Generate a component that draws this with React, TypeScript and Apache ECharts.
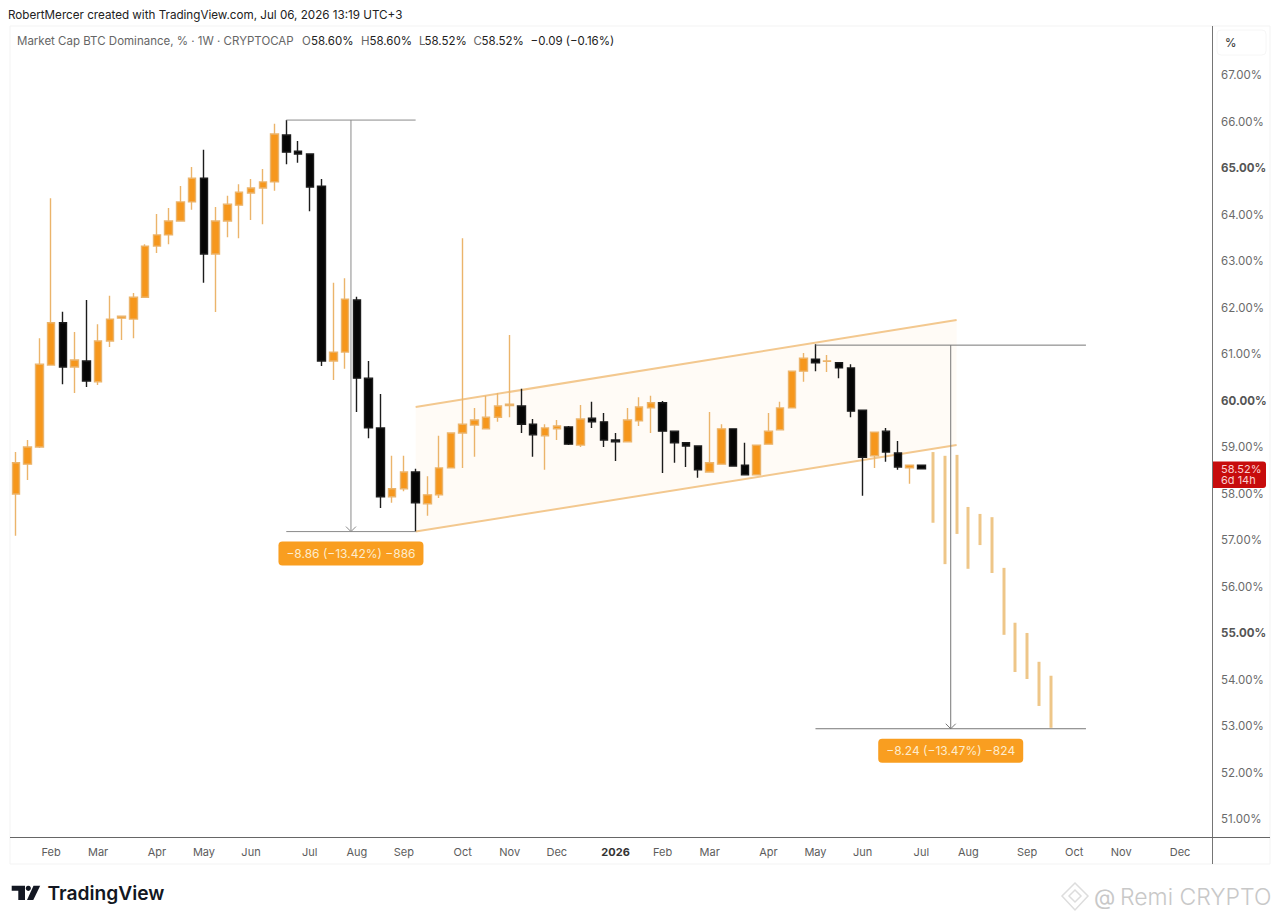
import React, { useEffect, useRef } from "react";
import * as echarts from "echarts";

// Weekly bars, 13 Jan 2025 onward
const weeks: string[] = [
  "2025-01-13","2025-01-20","2025-01-27","2025-02-03","2025-02-10","2025-02-17","2025-02-24","2025-03-03","2025-03-10","2025-03-17",
  "2025-03-24","2025-03-31","2025-04-07","2025-04-14","2025-04-21","2025-04-28","2025-05-05","2025-05-12","2025-05-19","2025-05-26",
  "2025-06-02","2025-06-09","2025-06-16","2025-06-23","2025-06-30","2025-07-07","2025-07-14","2025-07-21","2025-07-28","2025-08-04",
  "2025-08-11","2025-08-18","2025-08-25","2025-09-01","2025-09-08","2025-09-15","2025-09-22","2025-09-29","2025-10-06","2025-10-13",
  "2025-10-20","2025-10-27","2025-11-03","2025-11-10","2025-11-17","2025-11-24","2025-12-01","2025-12-08","2025-12-15","2025-12-22",
  "2025-12-29","2026-01-05","2026-01-12","2026-01-19","2026-01-26","2026-02-02","2026-02-09","2026-02-16","2026-02-23","2026-03-02",
  "2026-03-09","2026-03-16","2026-03-23","2026-03-30","2026-04-06","2026-04-13","2026-04-20","2026-04-27","2026-05-04","2026-05-11",
  "2026-05-18","2026-05-25","2026-06-01","2026-06-08","2026-06-15","2026-06-22","2026-06-29","2026-07-06","2026-07-13","2026-07-20",
  "2026-07-27","2026-08-03","2026-08-10","2026-08-17","2026-08-24","2026-08-31","2026-09-07","2026-09-14","2026-09-21","2026-09-28",
  "2026-10-05","2026-10-12","2026-10-19","2026-10-26","2026-11-02","2026-11-09","2026-11-16","2026-11-23","2026-11-30","2026-12-07",
  "2026-12-14","2026-12-21",
];

const monthTicks: Record<string, string> = {
  "2025-02-03": "Feb", "2025-03-03": "Mar", "2025-04-07": "Apr", "2025-05-05": "May", "2025-06-02": "Jun",
  "2025-07-07": "Jul", "2025-08-04": "Aug", "2025-09-01": "Sep", "2025-10-06": "Oct", "2025-11-03": "Nov",
  "2025-12-01": "Dec", "2026-01-05": "2026", "2026-02-02": "Feb", "2026-03-02": "Mar", "2026-04-06": "Apr",
  "2026-05-04": "May", "2026-06-01": "Jun", "2026-07-06": "Jul", "2026-08-03": "Aug", "2026-09-07": "Sep",
  "2026-10-05": "Oct", "2026-11-02": "Nov", "2026-12-07": "Dec",
};

const yTicks = [51, 52, 53, 54, 55, 56, 57, 58, 59, 60, 61, 62, 63, 64, 65, 66, 67];
const yBoldTicks = [55, 60, 65];

// open, close, low, high
const candles: number[][] = [
  [57.98,58.65,57.08,58.88],[58.62,58.99,58.28,59.14],[58.99,60.77,58.97,61.33],[60.75,61.66,60.75,64.34],
  [61.66,60.71,60.34,61.90],[60.71,60.86,60.15,61.46],[60.84,60.41,60.28,62.15],[60.39,61.27,60.32,61.63],
  [61.27,61.74,61.14,62.24],[61.76,61.80,61.29,61.81],[61.74,62.21,61.33,62.30],[62.21,63.31,62.21,63.35],
  [63.31,63.55,63.16,64.00],[63.55,63.85,63.35,64.13],[63.85,64.26,63.85,64.60],[64.26,64.77,64.09,65.01],
  [64.77,63.14,62.52,65.38],[63.14,63.85,61.89,64.15],[63.85,64.21,63.50,64.39],[64.19,64.47,63.48,64.64],
  [64.45,64.56,63.87,64.75],[64.56,64.69,63.78,64.97],[64.69,65.72,64.50,65.94],[65.70,65.33,65.07,66.02],
  [65.35,65.29,65.10,65.57],[65.29,64.58,64.06,65.30],[64.60,60.84,60.73,64.75],[60.84,61.03,60.43,62.52],
  [61.03,62.17,60.67,62.62],[62.15,60.47,59.74,62.22],[60.47,59.40,59.18,60.84],[59.40,57.92,57.68,60.13],
  [57.92,58.09,57.79,58.80],[58.09,58.45,58.04,58.80],[58.45,57.79,57.17,58.52],[57.77,57.96,57.51,58.36],
  [57.96,58.54,57.89,59.23],[58.54,59.29,58.54,59.29],[59.29,59.48,58.54,63.48],[59.46,59.57,58.78,59.83],
  [59.38,59.63,59.38,60.09],[59.63,59.87,59.53,60.15],[59.88,59.91,59.63,61.40],[59.87,59.48,59.29,60.24],
  [59.48,59.25,58.78,59.59],[59.23,59.40,58.50,59.48],[59.38,59.44,59.14,59.57],[59.42,59.05,59.03,59.44],
  [59.03,59.59,58.99,59.89],[59.61,59.53,59.40,59.96],[59.53,59.14,58.99,59.72],[59.14,59.10,58.69,59.29],
  [59.10,59.57,59.10,59.83],[59.55,59.85,59.44,60.06],[59.83,59.94,59.29,60.09],[59.94,59.33,58.43,59.98],
  [59.33,59.08,58.65,59.33],[59.08,59.01,58.56,59.08],[59.01,58.50,58.33,59.01],[58.45,58.65,58.45,59.74],
  [58.62,59.38,58.62,59.48],[59.38,58.58,58.58,59.38],[58.60,58.39,58.39,59.08],[58.39,59.03,58.39,59.03],
  [59.05,59.33,59.05,59.72],[59.36,59.83,59.36,59.96],[59.83,60.62,59.83,60.62],[60.62,60.90,60.39,61.01],
  [60.88,60.80,60.62,61.20],[60.83,60.84,60.60,60.97],[60.80,60.69,60.47,60.80],[60.69,59.76,59.63,60.77],
  [59.78,58.77,57.94,59.78],[58.80,59.31,58.54,59.31],[59.33,58.88,58.67,59.40],[58.86,58.56,58.50,59.12],
  [58.54,58.60,58.20,58.60],[58.60,58.52,58.52,58.60],
];

// Projected path: high, low for the weeks after the last candle
const projectedHigh = [58.88, 58.80, 58.82, 57.70, 57.55, 57.48, 56.39, 55.21, 54.99, 54.37, 54.07];
const projectedLow = [57.36, 56.47, 57.12, 56.37, 56.88, 56.28, 54.95, 54.15, 54.00, 53.42, 52.95];

// Parallel channel: week index from/to, upper and lower values at each end
const channelFromWeek = 34;
const channelToWeek = 80;
const channelUpper = [59.85, 61.72];
const channelLower = [57.17, 59.03];

// Measure tools
const measureFromWeek = [23, 68];
const measureToWeek = [34, 91];
const measureTop = [66.02, 61.18];
const measureBottom = [57.17, 52.93];
const measureLabels = ["−8.86 (−13.42%) −886", "−8.24 (−13.47%) −824"];

const FONT = "Inter, 'Noto Sans', sans-serif";
const ORANGE = "#f6971c";
const WICK = "#ebb46b";
const BLACK = "#050505";
const GHOST = "#eec688";
const GREY_LINE = "#8a8a8a";

function renderChannel(_p: any, api: any) {
  const a = api.coord([channelFromWeek, channelUpper[0]]);
  const b = api.coord([channelToWeek, channelUpper[1]]);
  const c = api.coord([channelToWeek, channelLower[1]]);
  const d = api.coord([channelFromWeek, channelLower[0]]);
  const line = { stroke: "#f3c88f", lineWidth: 2, fill: "none" };
  return {
    type: "group",
    children: [
      { type: "polygon", shape: { points: [a, b, c, d] }, style: { fill: "#fffbf6" } },
      { type: "line", shape: { x1: a[0], y1: a[1], x2: b[0], y2: b[1] }, style: line },
      { type: "line", shape: { x1: d[0], y1: d[1], x2: c[0], y2: c[1] }, style: line },
    ],
  };
}

function renderMeasure(p: any, api: any) {
  const i = p.dataIndex;
  const tl = api.coord([measureFromWeek[i], measureTop[i]]);
  const tr = api.coord([measureToWeek[i], measureTop[i]]);
  const bl = api.coord([measureFromWeek[i], measureBottom[i]]);
  const br = api.coord([measureToWeek[i], measureBottom[i]]);
  const mid = (tl[0] + tr[0]) / 2;
  const s = { stroke: i === 0 ? GREY_LINE : "#777", lineWidth: 1, fill: "none" };
  return {
    type: "group",
    children: [
      { type: "line", shape: { x1: tl[0], y1: tl[1], x2: tr[0], y2: tr[1] }, style: s },
      { type: "line", shape: { x1: bl[0], y1: bl[1], x2: br[0], y2: br[1] }, style: s },
      { type: "line", shape: { x1: mid, y1: tl[1], x2: mid, y2: bl[1] }, style: s },
      { type: "polyline", shape: { points: [[mid - 5, bl[1] - 5], [mid, bl[1]], [mid + 5, bl[1] - 5]] }, style: s },
      {
        type: "rect",
        shape: { x: mid - 72.5, y: bl[1] + 10, width: 145, height: 24, r: 4 },
        style: { fill: "#f99e20" },
      },
      {
        type: "text",
        style: {
          x: mid,
          y: bl[1] + 22.2,
          text: measureLabels[i],
          fill: "#fdeccd",
          fontSize: 12,
          fontFamily: FONT,
          align: "center",
          verticalAlign: "middle",
        },
      },
    ],
  };
}

function headerText(x: number, text: string, fill: string) {
  return {
    type: "text",
    z: 100,
    style: { x, y: 41, text, fill, fontSize: 11.5, fontFamily: FONT, verticalAlign: "middle" },
  };
}

export default function App() {
  const ref = useRef<HTMLDivElement>(null);
  useEffect(() => {
    document.body.style.margin = "0";
    document.body.style.background = "#ffffff";
    document.body.style.overflow = "hidden";
    const chart = echarts.init(ref.current!, undefined, { renderer: "svg" });
    const band = 11.76;
    const gridLeft = 9.92;
    const gridWidth = band * weeks.length;
    chart.setOption({
      animation: false,
      backgroundColor: "#ffffff",
      grid: { left: gridLeft, width: gridWidth, top: 26, height: 811, containLabel: false },
      xAxis: {
        type: "category",
        data: weeks,
        boundaryGap: true,
        axisLine: { show: false },
        axisTick: { show: false },
        splitLine: { show: false },
        axisLabel: {
          interval: (_i: number, v: string) => v in monthTicks,
          formatter: (v: string) => (monthTicks[v] === "2026" ? "{b|2026}" : monthTicks[v] || ""),
          margin: 9,
          color: "#5c5c5c",
          fontSize: 11,
          fontFamily: FONT,
          rich: { b: { fontWeight: 700, fontSize: 11, fontFamily: FONT, color: "#333333" } },
        },
      },
      yAxis: {
        type: "value",
        position: "right",
        min: 50.602,
        max: 68.043,
        axisLine: { show: false },
        axisTick: { show: false },
        splitLine: { show: false },
        axisLabel: {
          customValues: yTicks,
          margin: 11.6,
          padding: [2, 0, 0, 0],
          color: "#6a6a6a",
          fontSize: 11.5,
          fontFamily: FONT,
          formatter: (v: number) =>
            yBoldTicks.includes(v) ? `{b|${v.toFixed(2)}%}` : `${v.toFixed(2)}%`,
          rich: { b: { fontWeight: 700, fontSize: 11.5, fontFamily: FONT, color: "#555555" } },
        },
      },
      series: [
        {
          type: "custom",
          name: "Channel",
          coordinateSystem: "cartesian2d",
          z: 1,
          silent: true,
          renderItem: renderChannel,
          data: [[channelFromWeek, channelUpper[0]]],
        },
        {
          type: "candlestick",
          name: "BTC.D",
          z: 2,
          barWidth: 8,
          itemStyle: {
            color: ORANGE,
            color0: BLACK,
            borderColor: WICK,
            borderColor0: "#1c1c1c",
            borderWidth: 1.4,
          },
          data: candles,
        },
        {
          type: "candlestick",
          name: "Projection",
          z: 2,
          barWidth: 3.4,
          itemStyle: { color: GHOST, color0: GHOST, borderColor: GHOST, borderColor0: GHOST, borderWidth: 0 },
          data: [
            ...candles.map(() => "-"),
            ...projectedHigh.map((h, i) => [h, projectedLow[i], projectedLow[i], h]),
          ],
        },
        {
          type: "custom",
          name: "Measures",
          coordinateSystem: "cartesian2d",
          z: 3,
          silent: true,
          renderItem: renderMeasure,
          data: measureFromWeek.map((w, i) => [w, measureTop[i]]),
        },
      ],
      graphic: [
        { type: "rect", z: 0, shape: { x: 10, y: 26, width: 1260, height: 838 }, style: { fill: "none", stroke: "#f3f3f3", lineWidth: 1 } },
        { type: "line", z: 100, shape: { x1: 1212.5, y1: 26, x2: 1212.5, y2: 864 }, style: { stroke: "#757575", lineWidth: 1 } },
        { type: "line", z: 100, shape: { x1: 10, y1: 837.5, x2: 1270, y2: 837.5 }, style: { stroke: "#666666", lineWidth: 1 } },
        { type: "rect", z: 1, shape: { x: 1217, y: 30, width: 49, height: 25, r: 4 }, style: { fill: "#ffffff", stroke: "#f6f6f6" } },
        { type: "text", z: 100, style: { x: 1225, y: 42.5, text: "%", fill: "#3c3c3c", fontSize: 11.5, fontFamily: FONT, fontWeight: 500, verticalAlign: "middle" } },
        { type: "text", z: 100, style: { x: 8, y: 15, text: "RobertMercer created with TradingView.com, Jul 06, 2026 13:19 UTC+3", fill: "#222222", fontSize: 11.65, fontFamily: FONT, verticalAlign: "middle" } },
        headerText(17, "Market Cap BTC Dominance, % · 1W · CRYPTOCAP", "#666666"),
        headerText(302, "O", "#666666"),
        headerText(311, "58.60%", "#222222"),
        headerText(361, "H", "#666666"),
        headerText(369.5, "58.60%", "#222222"),
        headerText(419, "L", "#666666"),
        headerText(424.5, "58.52%", "#222222"),
        headerText(473.5, "C", "#666666"),
        headerText(481.6, "58.52%", "#222222"),
        headerText(530.6, "−0.09 (−0.16%)", "#222222"),
        { type: "rect", z: 100, shape: { x: 1213, y: 461.5, width: 53, height: 26.5, r: [0, 3, 3, 0] }, style: { fill: "#c70c0c" } },
        { type: "text", z: 101, style: { x: 1221, y: 468.5, text: "58.52%", fill: "#fad0d0", fontSize: 11, fontFamily: FONT, verticalAlign: "middle" } },
        { type: "text", z: 101, style: { x: 1221, y: 480.3, text: "6d 14h", fill: "#fad0d0", fontSize: 11, fontFamily: FONT, verticalAlign: "middle" } },
        // TradingView logo
        { type: "polygon", z: 100, shape: { points: [[11.7, 885.7], [25, 885.7], [25, 900], [18.3, 900], [18.3, 890.7], [11.7, 890.7]] }, style: { fill: "#131722" } },
        { type: "circle", z: 100, shape: { cx: 28.3, cy: 888.3, r: 2.6 }, style: { fill: "#131722" } },
        { type: "polygon", z: 100, shape: { points: [[33.5, 885.7], [40.2, 885.7], [33.3, 900], [27, 900]] }, style: { fill: "#131722" } },
        { type: "text", z: 100, style: { x: 47.5, y: 893, text: "TradingView", fill: "#131722", fontSize: 19.2, fontWeight: 600, fontFamily: FONT, verticalAlign: "middle" } },
        // Watermark
        { type: "polygon", z: 100, shape: { points: [[1075, 883], [1088, 896], [1075, 910], [1062, 896]] }, style: { fill: "none", stroke: "#dddddd", lineWidth: 1.5 } },
        { type: "polygon", z: 100, shape: { points: [[1075, 890], [1081, 896], [1075, 902], [1069, 896]] }, style: { fill: "none", stroke: "#dddddd", lineWidth: 1.5 } },
        { type: "text", z: 100, style: { x: 1094, y: 897, text: "@", fill: "#c8c8c8", fontSize: 22, fontFamily: FONT, verticalAlign: "middle" } },
        { type: "text", z: 100, style: { x: 1120, y: 897, text: "Remi CRYPTO", fill: "#c8c8c8", fontSize: 23, fontWeight: 300, fontFamily: FONT, verticalAlign: "middle" } },
      ],
    });
    return () => chart.dispose();
  }, []);
  return <div ref={ref} style={{ position: "absolute", left: 0, top: 0, width: 1280, height: 922 }} />;
}
